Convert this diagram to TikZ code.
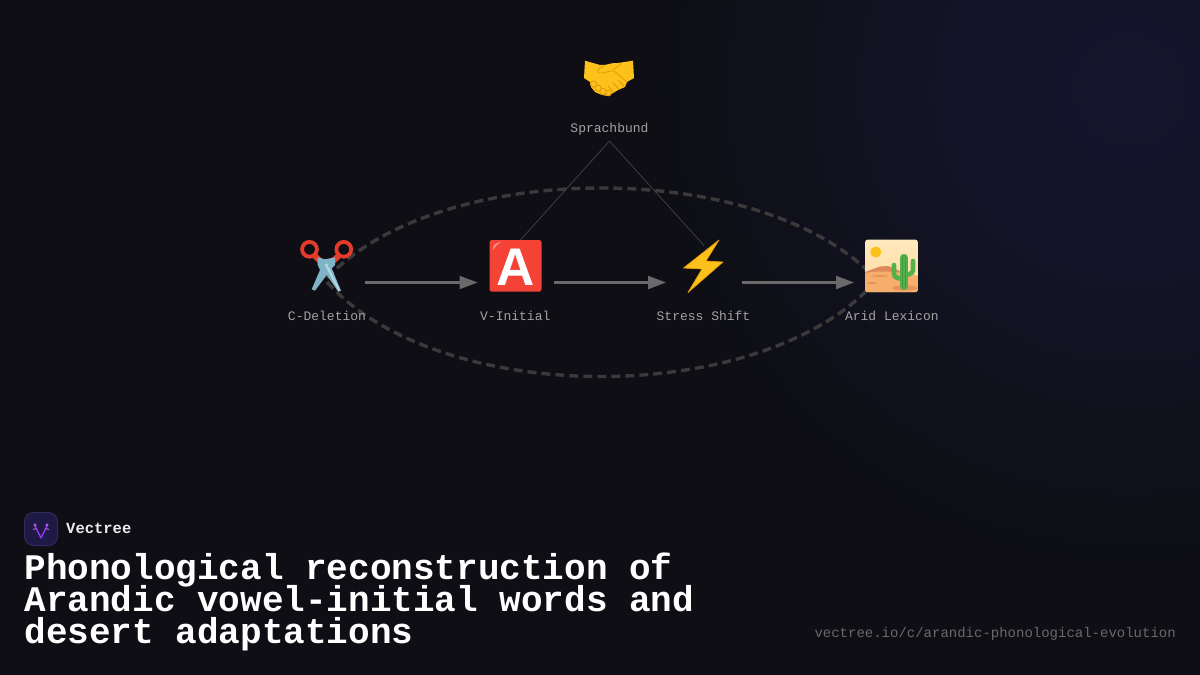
\documentclass[tikz,border=0pt]{standalone}
\usepackage{fontspec}
\setmainfont{Liberation Sans}
\setmonofont{Liberation Mono}
\usetikzlibrary{arrows.meta}
\definecolor{bgbase}{HTML}{0E0E14}
\definecolor{bgglow}{HTML}{15162E}
\definecolor{labelc}{HTML}{A3A3A3}
\definecolor{urlc}{HTML}{6A6A6A}
\definecolor{flowc}{HTML}{6A6A6A}
\definecolor{thinc}{HTML}{444444}
\definecolor{dashc}{HTML}{3A3A3A}
\definecolor{yel}{HTML}{FCC21B}
\definecolor{yeldk}{HTML}{E59A0C}
\definecolor{redb}{HTML}{F44336}
\definecolor{scisr}{HTML}{E53B2C}
\definecolor{blade}{HTML}{7FB3C6}
\definecolor{bladelt}{HTML}{B5D8E4}
\definecolor{cact}{HTML}{55B04A}
\definecolor{cactdk}{HTML}{3E9A3E}
\definecolor{skytop}{HTML}{FFE9BE}
\definecolor{skylow}{HTML}{FFD9A0}
\definecolor{sandc}{HTML}{F5AE6C}
\definecolor{sanddk}{HTML}{E8915A}
\definecolor{dunec}{HTML}{DD8A5A}
\definecolor{logobg}{HTML}{1E1A45}
\definecolor{logoln}{HTML}{2E2A5E}
\definecolor{logov}{HTML}{9333EA}
\definecolor{logod}{HTML}{B45FE0}
\pgfdeclareradialshading{glow}{\pgfpoint{0bp}{0bp}}{color(0bp)=(bgglow); color(8bp)=(bgglow!80!bgbase); color(25bp)=(bgbase); color(100bp)=(bgbase)}
\tikzset{
  box/.style={minimum width=76pt,minimum height=74pt,inner sep=0pt,outer sep=0pt},
  lab/.style={font=\ttfamily\fontsize{13}{13}\selectfont,text=labelc,anchor=base,inner sep=0pt},
  flow/.style={draw=flowc,line width=2.2pt,-{Triangle[length=18pt,width=13pt]}},
  thin link/.style={draw=thinc,line width=.7pt},
  arc link/.style={draw=dashc,line width=3.4pt,dash pattern=on 9pt off 5pt},
  title/.style={font=\ttfamily\bfseries\fontsize{36}{36}\selectfont,text=white,anchor=base west,inner sep=0pt},
}
\begin{document}
\begin{tikzpicture}[x=1pt,y=-1pt]
\useasboundingbox (0,0) rectangle (1200,675);
\fill[bgbase] (0,0) rectangle (1200,675);
\begin{scope}
  \clip (0,0) rectangle (1200,675);
  \shade[shading=glow] (1130,90) circle (480);
\end{scope}

% layout nodes
\node[box] (cdel) at (327,282.5) {};
\node[box] (vini) at (515.5,282.5) {};
\node[box] (strs) at (704,282.5) {};
\node[box] (arid) at (892,282.5) {};
\node[box,minimum height=94pt] (spra) at (609.5,94) {};
\coordinate (tl) at (327,278);
\coordinate (tr) at (875,278);
\coordinate (bl) at (327,282);
\coordinate (br) at (875,282);

% connectors
\draw[arc link] (tl) .. controls (440,158) and (762,158) .. (tr);
\draw[arc link] (bl) .. controls (440,408) and (762,408) .. (br);
\draw[thin link] (spra.south) -- (vini.north);
\draw[thin link] (spra.south) -- (strs.north);
\draw[flow] (cdel.east) -- (vini.west);
\draw[flow] (vini.east) -- (strs.west);
\draw[flow] (strs.east) -- (arid.west);

% handshake icon
\begin{scope}
  \fill[yel] (585,60.7) -- (600,65) .. controls (606,66) and (612,62) .. (618,63) -- (633,60.7) -- (634,78) -- (627,82)
     -- (625,87) -- (618,90) -- (613,93) -- (608,96) -- (602,95) -- (595,92) -- (591,87) -- (590,82) -- (584,78) -- cycle;
  \draw[yeldk,line width=.9pt,line cap=round,line join=round]
     (604,66) .. controls (598,68) and (596,72) .. (599,73) .. controls (605,74) and (609,70) .. (614,71)
     .. controls (620,75) and (624,80) .. (627,82);
  \draw[yeldk,line width=.8pt,line cap=round] (621,64) -- (613,70);
  \draw[yeldk,line width=.9pt,line cap=round] (618,80) -- (624,86) (613,83) -- (619,89) (608,86) -- (614,92);
  \draw[yeldk,line width=.9pt,fill=yel] (593.5,84) circle (3.1) (598,88) circle (3.1) (603,91.5) circle (3.1) (608.5,93) circle (2.8);
\end{scope}

% scissors icon
\begin{scope}
  \draw[scisr,line width=3.8pt] (309.5,249.3) circle (7.4) (343.8,249.3) circle (7.4);
  \draw[scisr,line width=6pt] (315,256) -- (321,262) (338.5,256) -- (332,262);
  \fill[blade] (317.7,257.3) -- (325,259.3) -- (335,257.3) -- (335,265) -- (331.7,268.3) -- (341,290.7) -- (338.3,291.7) -- (326.7,275) -- (315,290.7) -- (311.7,289.3) -- (320,270) -- (317.7,265) -- cycle;
  \fill[bladelt] (326,267) -- (328.5,267) -- (340,290) -- (338.5,291) -- cycle;
  \fill[bladelt] (326.7,265.3) circle (1.9);
\end{scope}

% letter A icon
\fill[redb,rounded corners=2.5pt] (489.5,240) rectangle (541.5,291.7);
\fill[white,opacity=.45] (493,250) .. controls (493,245) and (495,243) .. (501,242) .. controls (496,245) and (495,247) .. cycle;
\node[font=\bfseries\fontsize{53}{53}\selectfont,text=white,anchor=base,inner sep=0pt] (aglyph) at (515.3,285) {A};

% bolt icon
\fill[yel,draw=yeldk,line width=.7pt,line join=round] (719,240) -- (683.5,268) -- (702,269) -- (688,292.5) -- (723,262) -- (706,261) -- cycle;

% desert icon
\begin{scope}
  \clip[rounded corners=3pt] (865,239.5) rectangle (918,292.2);
  \shade[top color=skytop,bottom color=skylow] (865,239.5) rectangle (918,292.2);
  \fill[yel] (875.8,252) circle (5.6);
  \fill[dunec] (865,272) -- (880,266.5) -- (888,266) -- (905,273) -- (905,280) -- (865,280) -- cycle;
  \fill[sandc] (865,273) .. controls (880,270) and (905,272) .. (918,276) -- (918,292.2) -- (865,292.2) -- cycle;
  \fill[sanddk] (872,283) ellipse (5 and 1) (880,276) ellipse (8 and .8);
  \fill[sanddk] (905,288) ellipse (13 and 2.5);
  \draw[cact,line width=4.6pt,line cap=round,line join=round,rounded corners=3pt] (894,265) -- (894,277) -- (902,279);
  \draw[cact,line width=4.6pt,line cap=round,line join=round,rounded corners=3pt] (913,261) -- (913,273) -- (906,275);
  \draw[cact,line width=8.4pt,line cap=round] (904,258) -- (904,286);
  \draw[cactdk,line width=.5pt] (902.5,256) -- (902.5,288) (905.5,256) -- (905.5,288);
\end{scope}

% labels
\node[lab] (lsp) at (609.5,132) {Sprachbund};
\node[lab] (lcd) at (327,320) {C-Deletion};
\node[lab] (lvi) at (515.3,320) {V-Initial};
\node[lab] (lss) at (703.5,320) {Stress Shift};
\node[lab] (lar) at (891.8,320) {Arid Lexicon};

% logo
\draw[logoln,fill=logobg,line width=1pt,rounded corners=9pt] (24.5,512.5) rectangle (57.5,545.5);
\draw[logov,line width=1.4pt,line cap=round,line join=round] (35,526) -- (41,538) -- (47,526);
\fill[logod] (35,525) circle (1.7) (47,525) circle (1.7);
\draw[logod,line width=1pt] (33,529.5) -- (36.5,528.5) (49,529.5) -- (45.5,528.5);
\node[font=\ttfamily\bfseries\fontsize{15.5}{15.5}\selectfont,text=white!92!black,anchor=base west,inner sep=0pt] (brand) at (66,533) {Vectree};

% title
\node[title] (t1) at (24.3,579.5) {Phonological reconstruction of};
\node[title] (t2) at (24.3,611) {Arandic vowel-initial words and};
\node[title] (t3) at (24.3,643.5) {desert adaptations};
\node[font=\ttfamily\fontsize{14}{14}\selectfont,text=urlc,anchor=base east,inner sep=0pt] (url) at (1176,637.5) {vectree.io/c/arandic-phonological-evolution};
\end{tikzpicture}
\end{document}
